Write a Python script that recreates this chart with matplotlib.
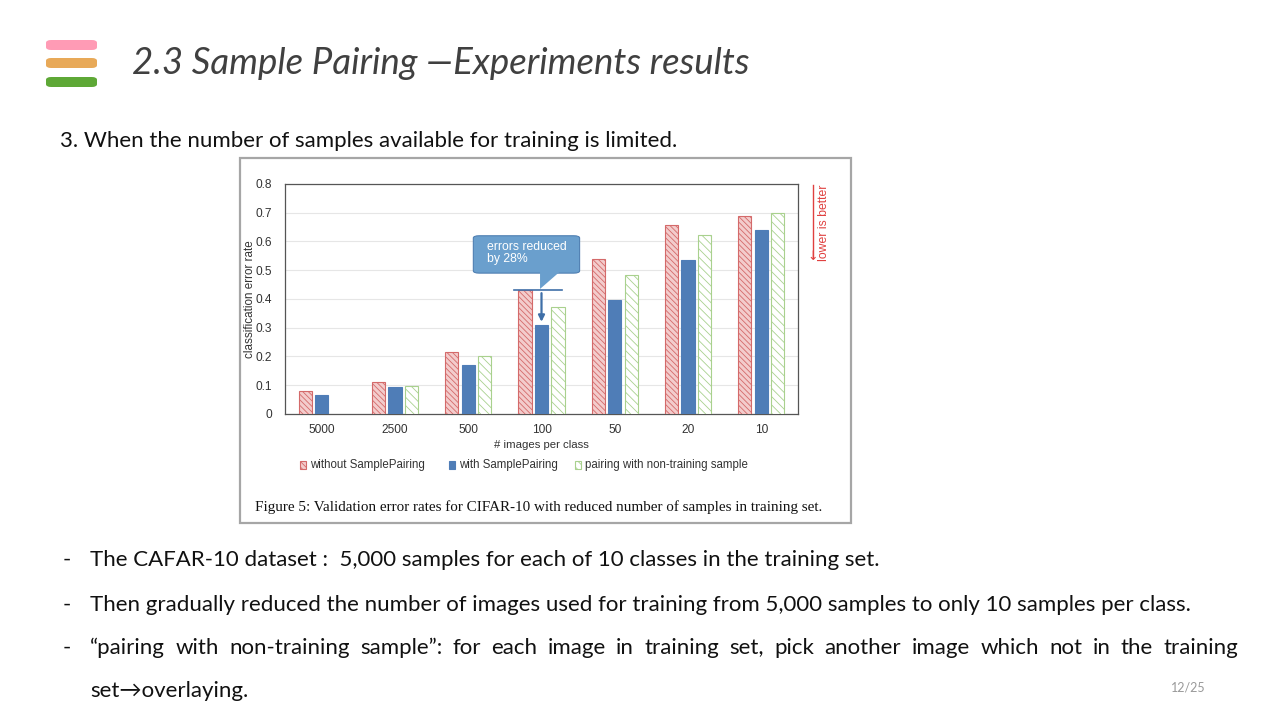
import numpy as np
import matplotlib.pyplot as plt
from matplotlib.patches import FancyBboxPatch, Polygon, Rectangle

groups = ["5000", "2500", "500", "100", "50", "20", "10"]
without_sp = [0.080, 0.110, 0.215, 0.430, 0.540, 0.658, 0.690]
with_sp = [0.067, 0.095, 0.170, 0.308, 0.395, 0.537, 0.640]
non_training = [np.nan, 0.097, 0.203, 0.373, 0.485, 0.623, 0.700]
series_names = ["without SamplePairing", "with SamplePairing",
                "pairing with non-training sample"]

title = "2.3 Sample Pairing \u2014Experiments results"
intro = "3. When the number of samples available for training is limited."
bullets = [
    "The CAFAR-10 dataset :  5,000 samples for each of 10 classes in the training set.",
    "Then gradually reduced the number of images used for training from 5,000 samples to only 10 samples per class.",
    "\u201cpairing with non-training sample\u201d: for each image in training set, pick another image which not in the training",
]
last_line = "set\u2192overlaying."
caption = "Figure 5: Validation error rates for CIFAR-10 with reduced number of samples in training set."

W, H = 1280, 720
fig = plt.figure(figsize=(12.8, 7.2), dpi=100)
fig.patch.set_facecolor("white")


def fx(px):
    return px / W


def fy(py):
    return 1 - py / H


body_font = "Lato"
chart_font = "Liberation Sans"
body_size = 16

# decoration bars top-left
for yy, col in [(45, "#ff9bb5"), (63, "#e8a958"), (82, "#5ea836")]:
    fig.patches.append(FancyBboxPatch((fx(46), fy(yy + 5)), fx(51), 10 / H,
                                      boxstyle="round,pad=0.0,rounding_size=0.004",
                                      transform=fig.transFigure, fc=col, ec=col, lw=0))

fig.text(fx(132), fy(64), title, fontsize=26.4, style="italic", color="#404040",
         family=body_font, va="center", ha="left")
fig.text(fx(60), fy(141), intro, fontsize=body_size, color="#111111", family=body_font,
         va="center", ha="left")

# picture frame
fig.patches.append(Rectangle((fx(240), fy(523)), fx(611), 365 / H, transform=fig.transFigure,
                             fc="white", ec="#a6a6a6", lw=1.6, zorder=-5))

red_style = dict(color="#f3cccc", edgecolor="#d46a6a", hatch="\\\\\\\\\\\\", lw=0.8)
blue_style = dict(color="#4f7db7", edgecolor="#4f7db7", lw=0.8)
green_style = dict(color="white", edgecolor="#a9d18e", hatch="\\\\\\\\", lw=0.8)

ax = fig.add_axes([fx(285), fy(414), fx(513), 230 / H])
ax.set_facecolor("white")
x = np.arange(len(groups))
bw = 0.18
off = 0.225
plt.rcParams["hatch.linewidth"] = 0.6
ax.bar(x - off, without_sp, bw, zorder=3, **red_style)
ax.bar(x, with_sp, bw, zorder=3, **blue_style)
ax.bar(x + off, non_training, bw, zorder=3, **green_style)

ax.set_xlim(-0.5, len(groups) - 0.5)
ax.set_ylim(0, 0.8)
ax.set_yticks(np.arange(0, 0.81, 0.1))
ax.set_yticklabels(["0"] + [f"{v:.1f}" for v in np.arange(0.1, 0.81, 0.1)])
ax.set_xticks(x)
ax.set_xticklabels(groups)
ax.tick_params(length=0, labelsize=8.6, colors="#333333")
ax.tick_params(axis="x", pad=7)
ax.tick_params(axis="y", pad=9)
for lab in ax.get_xticklabels() + ax.get_yticklabels():
    lab.set_family(chart_font)
ax.yaxis.grid(True, color="#e6e6e6", lw=0.8, zorder=0)
for s in ax.spines.values():
    s.set_color("#555555")
    s.set_linewidth(0.9)
ax.set_xlabel("# images per class", fontsize=8.2, family=chart_font, color="#333333",
              labelpad=3)
ax.set_ylabel("classification error rate", fontsize=8.4, family=chart_font, color="#333333",
              labelpad=0)

# legend drawn by hand to keep the original spacing
leg_x = [303, 452, 578]
for lx, name, st in zip(leg_x, series_names, [red_style, blue_style, green_style]):
    st = dict(st)
    fc = st.pop("color")
    fig.patches.append(Rectangle((fx(lx - 3), fy(469)), fx(6), 8 / H, transform=fig.transFigure,
                                 fc=fc, **st))
    fig.text(fx(lx + 7), fy(465), name, fontsize=8.3, family=chart_font, color="#333333",
             va="center", ha="left")

# callout
i100 = groups.index("100")
top = without_sp[i100]
ax.plot([i100 - 0.37, i100 + 0.28], [top, top], color="#3f6fa8", lw=1.2, zorder=5)
ax.annotate("", xy=(i100, with_sp[i100] + 0.003), xytext=(i100, top),
            arrowprops=dict(arrowstyle="-|>", color="#3f6fa8", lw=1.6, mutation_scale=9),
            zorder=5)
box = FancyBboxPatch((i100 - 0.93, 0.49), 1.45, 0.13,
                     boxstyle="round,pad=0.0,rounding_size=0.08", mutation_aspect=0.1,
                     fc="#6a9fcd", ec="#4f7fb2", lw=0.8, zorder=6)
ax.add_patch(box)
ax.add_patch(Polygon([[i100 - 0.02, 0.495], [i100 + 0.25, 0.495], [i100 - 0.02, top + 0.005]],
                     closed=True, fc="#6a9fcd", ec="none", zorder=7))
ax.text(i100 - 0.74, 0.56, "errors reduced\nby 28%", color="white", fontsize=8.8,
        family=chart_font, va="center", ha="left", zorder=8, linespacing=1.05)

# lower is better
fig.add_artist(plt.Line2D([fx(813), fx(813)], [fy(185), fy(258)], color="#e0403f", lw=1.0))
fig.text(fx(813), fy(263), "\u2193", color="#e0403f", fontsize=9, ha="center", va="bottom",
         family="DejaVu Sans")
fig.text(fx(824), fy(223), "lower is better", color="#e0403f", fontsize=8.8, rotation=90,
         family=chart_font, ha="center", va="center")

fig.text(fx(539), fy(507), caption, family="Liberation Serif", fontsize=10.9,
         color="#111111", ha="center", va="center")

# bullets
ys = [560, 605, 648]
for yy in ys:
    fig.text(fx(63), fy(yy), "-", fontsize=body_size, family=body_font, color="#111111",
             va="center")
fig.text(fx(90), fy(560), bullets[0], fontsize=body_size, family=body_font, color="#111111",
         va="center")
fig.text(fx(90), fy(605), bullets[1], fontsize=body_size, family=body_font, color="#111111",
         va="center")

# justified third bullet
renderer = fig.canvas.get_renderer()
words = bullets[2].split(" ")
arts = [fig.text(0, fy(648), w, fontsize=body_size, family=body_font, color="#111111",
                 va="center") for w in words]
widths = [a.get_window_extent(renderer).width for a in arts]
gap = (1238 - 90 - sum(widths)) / (len(words) - 1)
xp = 90
for a, w in zip(arts, widths):
    a.set_x(fx(xp))
    xp += w + gap
fig.text(fx(90), fy(691), last_line, fontsize=body_size, family=[body_font, "DejaVu Sans"],
         color="#111111", va="center")
fig.text(fx(1188), fy(688), "12/25", fontsize=9, family=body_font, color="#999999",
         ha="center", va="center")

fig.savefig("out.png", dpi=100)
